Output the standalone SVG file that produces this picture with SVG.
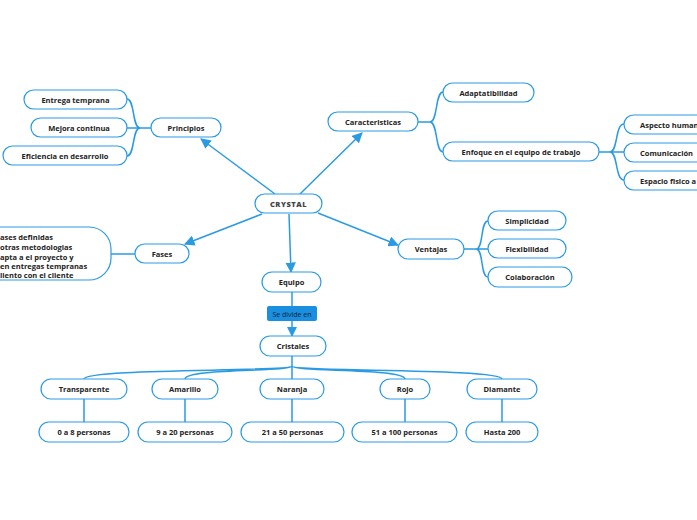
<svg xmlns="http://www.w3.org/2000/svg" width="697" height="520" viewBox="0 0 697 520">
<defs>
<style>
.n rect{fill:#fff;stroke:#2a9be3;stroke-width:1.2}
.n text{font-family:"Open Sans","DejaVu Sans",sans-serif;font-weight:bold;font-size:7.5px;fill:#222;text-anchor:middle}
.c path{fill:none;stroke:#2a9be3;stroke-width:1.5}
</style>
<marker id="a" viewBox="0 0 10 10" refX="9" refY="5" markerWidth="7" markerHeight="7" orient="auto"><path d="M0,0L10,5L0,10z" fill="#2a9be3"/></marker>
</defs>
<rect width="697" height="520" fill="#fff"/>
<g class="c">
<path d="M275,194L201,139" marker-end="url(#a)"/>
<path d="M300,194L362,133" marker-end="url(#a)"/>
<path d="M262,214L185,244" marker-end="url(#a)"/>
<path d="M318,213L398,245" marker-end="url(#a)"/>
<path d="M289,214L291,272" marker-end="url(#a)"/>
<path d="M292,292L292,306"/>
<path d="M292,321L292,336" marker-end="url(#a)"/>
<path d="M151,128H140C132,128 135,99 127,99M140,128H127M140,128C132,128 135,156 127,156"/>
<path d="M418,122H430C438,122 435,92 443,92M430,122C438,122 435,152 443,152"/>
<path d="M599,152H610C618,152 615,124 624,124M610,152H624M610,152C618,152 615,180 624,180"/>
<path d="M135,254H111"/>
<path d="M464,249H476C484,249 480,221 488,221M476,249H488M476,249C484,249 480,277 488,277"/>
<path d="M292,356V366C292,372 84,368 84,379M292,366C292,372 185,368 185,379M292,366V379M292,366C292,372 405,368 405,379M292,366C292,372 502,368 502,379"/>
<path d="M84,399V422M185,399V422M292,399V422M405,399V422M502,399V422"/>
</g>
<g class="n" id="crystal"><rect x="255" y="194" width="67" height="19" rx="9.5"/><text x="288.5" y="206.5" style="font-weight:900;letter-spacing:0.5px;fill:#444">CRYSTAL</text></g>
<g class="n" id="principios"><rect x="151" y="118" width="70" height="19" rx="9.5"/><text x="186" y="130.5">Principios</text></g>
<g class="n" id="entrega"><rect x="24" y="90" width="103" height="19" rx="9.5"/><text x="75.5" y="102.5">Entrega temprana</text></g>
<g class="n" id="mejora"><rect x="31" y="118" width="96" height="19" rx="9.5"/><text x="79" y="130.5">Mejora continua</text></g>
<g class="n" id="eficiencia"><rect x="3" y="146" width="124" height="19" rx="9.5"/><text x="65" y="158.5">Eficiencia en desarrollo</text></g>
<g class="n" id="caracteristicas"><rect x="328" y="112" width="90" height="19" rx="9.5"/><text x="373" y="124.5">Caracteristicas</text></g>
<g class="n" id="adapt"><rect x="443" y="83" width="91" height="19" rx="9.5"/><text x="488.5" y="95.5">Adaptatibilidad</text></g>
<g class="n" id="enfoque"><rect x="443" y="142" width="156" height="19" rx="9.5"/><text x="521" y="154.5">Enfoque en el equipo de trabajo</text></g>
<g class="n" id="aspecto"><rect x="624" y="115" width="90" height="19" rx="9.5"/><text x="640" y="127.5" style="text-anchor:start">Aspecto humano</text></g>
<g class="n" id="comunicacion"><rect x="624" y="143" width="90" height="19" rx="9.5"/><text x="640" y="155.5" style="text-anchor:start">Comunicación</text></g>
<g class="n" id="espacio"><rect x="624" y="171" width="90" height="19" rx="9.5"/><text x="640" y="183.5" style="text-anchor:start">Espacio fisico a</text></g>
<g class="n" id="fasesdesc"><rect x="-40" y="227" width="151" height="53" rx="22"/>
<text x="0" y="239.5" style="text-anchor:start">ases definidas</text>
<text x="0" y="249.5" style="text-anchor:start">otras metodologias</text>
<text x="0" y="259.5" style="text-anchor:start">apta a el proyecto y</text>
<text x="0" y="269" style="text-anchor:start">en entregas tempranas</text>
<text x="0" y="278" style="text-anchor:start">liento con el cliente</text></g>
<g class="n" id="fases"><rect x="135" y="244" width="54" height="19" rx="9.5"/><text x="162" y="256.5">Fases</text></g>
<g class="n" id="ventajas"><rect x="398" y="239" width="66" height="20" rx="10"/><text x="431" y="252">Ventajas</text></g>
<g class="n" id="simplicidad"><rect x="488" y="211" width="78" height="19" rx="9.5"/><text x="527" y="223.5">Simplicidad</text></g>
<g class="n" id="flexibilidad"><rect x="488" y="239" width="78" height="19" rx="9.5"/><text x="527" y="251.5">Flexibilidad</text></g>
<g class="n" id="colaboracion"><rect x="488" y="267" width="84" height="20" rx="10"/><text x="530" y="280">Colaboración</text></g>
<g class="n" id="equipo"><rect x="262" y="272" width="59" height="20" rx="10"/><text x="291.5" y="285">Equipo</text></g>
<g id="label"><rect x="267" y="306" width="50" height="15" rx="2" fill="#1a8fe0"/><text x="292" y="316.5" font-family="Open Sans,DejaVu Sans,sans-serif" font-size="7px" fill="#123" text-anchor="middle">Se divide en</text></g>
<g class="n" id="cristales"><rect x="260" y="336" width="66" height="20" rx="10"/><text x="293" y="349">Cristales</text></g>
<g class="n" id="transparente"><rect x="41" y="379" width="86" height="20" rx="10"/><text x="84" y="392">Transparente</text></g>
<g class="n" id="amarillo"><rect x="152" y="379" width="66" height="20" rx="10"/><text x="185" y="392">Amarillo</text></g>
<g class="n" id="naranja"><rect x="260" y="379" width="64" height="20" rx="10"/><text x="292" y="392">Naranja</text></g>
<g class="n" id="rojo"><rect x="380" y="379" width="50" height="20" rx="10"/><text x="405" y="392">Rojo</text></g>
<g class="n" id="diamante"><rect x="467" y="379" width="70" height="20" rx="10"/><text x="502" y="392">Diamante</text></g>
<g class="n" id="p1"><rect x="39" y="422" width="90" height="20" rx="10"/><text x="84" y="435">0 a 8 personas</text></g>
<g class="n" id="p2"><rect x="138" y="422" width="94" height="20" rx="10"/><text x="185" y="435">9 a 20 personas</text></g>
<g class="n" id="p3"><rect x="241" y="422" width="103" height="20" rx="10"/><text x="292.5" y="435">21 a 50 personas</text></g>
<g class="n" id="p4"><rect x="352" y="422" width="105" height="20" rx="10"/><text x="404.5" y="435">51 a 100 personas</text></g>
<g class="n" id="p5"><rect x="466" y="422" width="72" height="20" rx="10"/><text x="502" y="435">Hasta 200</text></g>
</svg>
